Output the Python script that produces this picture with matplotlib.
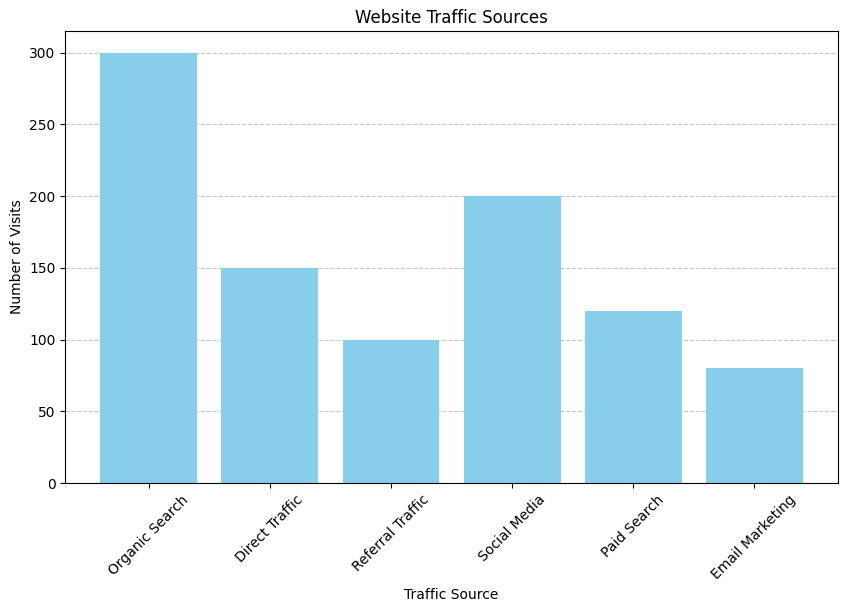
import matplotlib
matplotlib.use("Agg")
import matplotlib.pyplot as plt

sources = ["Organic Search", "Direct Traffic", "Referral Traffic",
           "Social Media", "Paid Search", "Email Marketing"]
visits = [300, 150, 100, 200, 120, 80]

fig, ax = plt.subplots(figsize=(8.48, 6.1), dpi=100)
ax.bar(sources, visits, color="skyblue")
ax.set_title("Website Traffic Sources")
ax.set_xlabel("Traffic Source")
ax.set_ylabel("Number of Visits")
ax.tick_params(axis="x", rotation=45)
ax.grid(axis="y", linestyle="--", alpha=0.7)
ax.set_axisbelow(True)

fig.subplots_adjust(left=0.077, right=0.988, top=0.949, bottom=0.208)
fig.savefig("out.png")
